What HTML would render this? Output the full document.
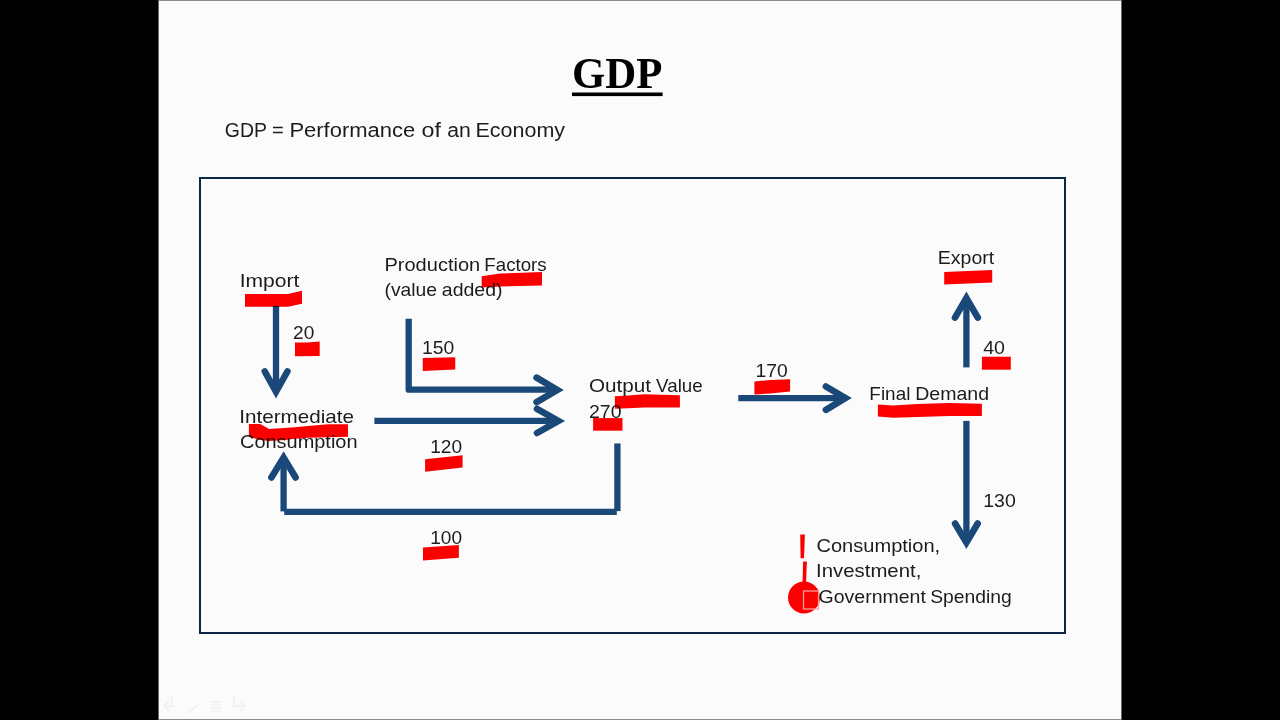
<!DOCTYPE html>
<html><head><meta charset="utf-8"><title>GDP</title>
<style>
html,body{margin:0;padding:0;background:#000;width:1280px;height:720px;overflow:hidden}
svg{position:absolute;left:0;top:0;display:block;will-change:transform}
text{font-family:"Liberation Sans",sans-serif;fill:#1c1c1c}
.lab text{font-size:18.5px}
.sub text{font-size:20px}
.ttl{font-family:"Liberation Serif",serif;font-weight:bold;font-size:44px;fill:#000}
</style></head>
<body>
<svg width="1280" height="720" viewBox="0 0 1280 720">
<rect x="0" y="0" width="1280" height="720" fill="#000"/>
<rect x="158" y="0" width="964" height="720" fill="#fcfbfc"/>
<rect x="158" y="0" width="964" height="1" fill="#8b898a"/>
<rect x="158" y="719" width="964" height="1" fill="#8b898a"/>
<rect x="158" y="0" width="1" height="720" fill="#6a6a6a"/>
<rect x="1121" y="0" width="1" height="720" fill="#6a6a6a"/>
<g fill="none" stroke="#efefef" stroke-width="1.5" stroke-linecap="round" stroke-linejoin="round">
  <path d="M164,706 L169,701.5 M164,706 L169,710.5 M164,706 H175 M172,697 V706"/>
  <path d="M188,712.5 L198,705"/>
  <path d="M212,702 H220 M212,705 H220 M212,708 H220 M212,711 H220"/>
  <path d="M245,706 L240,701.5 M245,706 L240,710.5 M245,706 H233 M234,697 V706"/>
</g>

<text class="ttl" x="572.01" y="87.7" textLength="90.4" lengthAdjust="spacingAndGlyphs">GDP</text>
<rect x="572" y="92.5" width="90.6" height="3.6" fill="#000"/>
<g class="sub">
<text x="224.82" y="136.7" textLength="42.1" lengthAdjust="spacingAndGlyphs">GDP</text>
<text x="272.02" y="136.7" textLength="11.78" lengthAdjust="spacingAndGlyphs">=</text>
<text x="289.4" y="136.7" textLength="125.78" lengthAdjust="spacingAndGlyphs">Performance</text>
<text x="421.52" y="136.7" textLength="19.44" lengthAdjust="spacingAndGlyphs">of</text>
<text x="447.3" y="136.7" textLength="23.58" lengthAdjust="spacingAndGlyphs">an</text>
<text x="475.54" y="136.7" textLength="89.5" lengthAdjust="spacingAndGlyphs">Economy</text>
</g>
<rect x="200" y="178" width="865" height="455" fill="none" stroke="#0e2548" stroke-width="2"/>
<g fill="none" stroke="#1a4878" stroke-width="6.3" stroke-linejoin="miter" stroke-linecap="butt">
  <path d="M276,306 V388"/>
  <path d="M408.7,318.8 V389.7 H553" stroke-linejoin="round"/>
  <path d="M374.4,420.8 H554"/>
  <path d="M617.4,443.4 V511.1"/>
  <path d="M616.8,511.8 H284.2"/>
  <path d="M283.6,511.4 V461"/>
  <path d="M738.3,398.1 H841"/>
  <path d="M966.4,367.4 V302"/>
  <path d="M966.4,420.9 V540"/>
</g>
<g fill="none" stroke="#1a4878" stroke-width="6.6" stroke-linejoin="miter" stroke-miterlimit="10" stroke-linecap="round">
  <polyline points="264.8,371.5 276,391.8 287.4,371.5"/>
  <polyline points="536.6,377.6 557.3,390 536.6,402.1"/>
  <polyline points="537,408.8 558.4,420.9 537,433"/>
  <polyline points="271.4,477.5 283.6,457.6 295.6,477.5"/>
  <polyline points="825.9,386.5 845.4,398.1 825.9,409.8"/>
  <polyline points="955,317.6 966.4,298 977.8,317.6"/>
  <polyline points="955.1,523.5 966.4,542.6 977.7,523.5"/>
</g>
<g class="lab">
<text x="239.76" y="286.5" textLength="59.59" lengthAdjust="spacingAndGlyphs">Import</text>
<text x="293.04" y="339" textLength="21.2" lengthAdjust="spacingAndGlyphs">20</text>
<text x="384.46" y="270.9" textLength="95.74" lengthAdjust="spacingAndGlyphs">Production</text>
<text x="484.37" y="270.9" textLength="62.2" lengthAdjust="spacingAndGlyphs">Factors</text>
<text x="384.5" y="295.7" textLength="52.55" lengthAdjust="spacingAndGlyphs">(value</text>
<text x="441.77" y="295.7" textLength="60.84" lengthAdjust="spacingAndGlyphs">added)</text>
<text x="422.03" y="354.4" textLength="32.23" lengthAdjust="spacingAndGlyphs">150</text>
<text x="239.35" y="422.5" textLength="114.67" lengthAdjust="spacingAndGlyphs">Intermediate</text>
<text x="239.99" y="447.5" textLength="117.56" lengthAdjust="spacingAndGlyphs">Consumption</text>
<text x="430.24" y="452.9" textLength="31.9" lengthAdjust="spacingAndGlyphs">120</text>
<text x="430.24" y="543.6" textLength="31.9" lengthAdjust="spacingAndGlyphs">100</text>
<text x="589.02" y="392.4" textLength="62.03" lengthAdjust="spacingAndGlyphs">Output</text>
<text x="656.12" y="392.4" textLength="46.59" lengthAdjust="spacingAndGlyphs">Value</text>
<text x="589.02" y="417.5" textLength="32.54" lengthAdjust="spacingAndGlyphs">270</text>
<text x="755.43" y="376.8" textLength="32.23" lengthAdjust="spacingAndGlyphs">170</text>
<text x="869.35" y="400" textLength="41.02" lengthAdjust="spacingAndGlyphs">Final</text>
<text x="915.2" y="400" textLength="73.86" lengthAdjust="spacingAndGlyphs">Demand</text>
<text x="937.8" y="263.6" textLength="56.34" lengthAdjust="spacingAndGlyphs">Export</text>
<text x="983.15" y="354.4" textLength="21.82" lengthAdjust="spacingAndGlyphs">40</text>
<text x="983.27" y="506.5" textLength="32.49" lengthAdjust="spacingAndGlyphs">130</text>
<text x="816.48" y="551.9" textLength="123.72" lengthAdjust="spacingAndGlyphs">Consumption,</text>
<text x="816.12" y="577.25" textLength="105.21" lengthAdjust="spacingAndGlyphs">Investment,</text>
<text x="818.52" y="602.5" textLength="107.32" lengthAdjust="spacingAndGlyphs">Government</text>
<text x="930.22" y="602.5" textLength="81.62" lengthAdjust="spacingAndGlyphs">Spending</text>
</g>
<g fill="#fe0000" style="mix-blend-mode:multiply">
  <polygon points="245,294 288,294 302,290.8 302,303.7 288,306.7 245,306.7"/>
  <polygon points="295,342.4 307,342.5 319.7,341.4 319.7,356 295,356.3"/>
  <polygon points="481.7,276.2 500,273.5 542,272 542,285.4 500,286.5 481.7,287.5"/>
  <polygon points="422.75,358 455.25,357.25 455.25,369.4 422.75,371"/>
  <polygon points="248.9,424.1 260.2,424.1 269.1,429 295,427.2 308,426 328,424.3 348,424.3 348,436.8 330,437.2 308,437.7 295,438.7 285,440 269,441 260.6,440 248.9,436.8"/>
  <polygon points="425.1,459.2 462.6,455.3 462.6,467.5 425.1,471.7"/>
  <polygon points="423,547.4 458.9,545 458.9,557.8 423,560.6"/>
  <polygon points="614.9,396.25 628,395.6 644.25,394.25 679.9,395.3 679.9,407.5 644.25,407.5 628,408.3 614.9,408.75"/>
  <polygon points="593.1,418.1 622.5,418.1 622.5,430.7 593.1,430.7"/>
  <polygon points="754.4,381.6 770,380 790.1,379.2 790.1,391.5 770,393.5 754.4,394.6"/>
  <polygon points="877.9,404.6 892.9,405.5 917.3,404 949,403.1 981.9,403.7 981.9,416.1 949,416.1 917.3,417 892.9,417.8 877.9,416.4"/>
  <polygon points="944.2,272 992.2,270 992.2,282.4 944.2,284.4"/>
  <polygon points="981.9,356.7 1010.8,356.7 1010.8,369.7 981.9,369.7"/>
  <polygon points="800.2,534.6 804.9,534.6 804,558.2 800.6,558.2"/>
  <polygon points="803.1,561.5 806.9,561.5 806,584 802.5,584"/>
  <circle cx="804" cy="597.5" r="16"/>
</g>
<rect x="803.5" y="591" width="15" height="18" fill="none" stroke="#ff9a9a" stroke-width="1.3"/>
</svg>
</body></html>
